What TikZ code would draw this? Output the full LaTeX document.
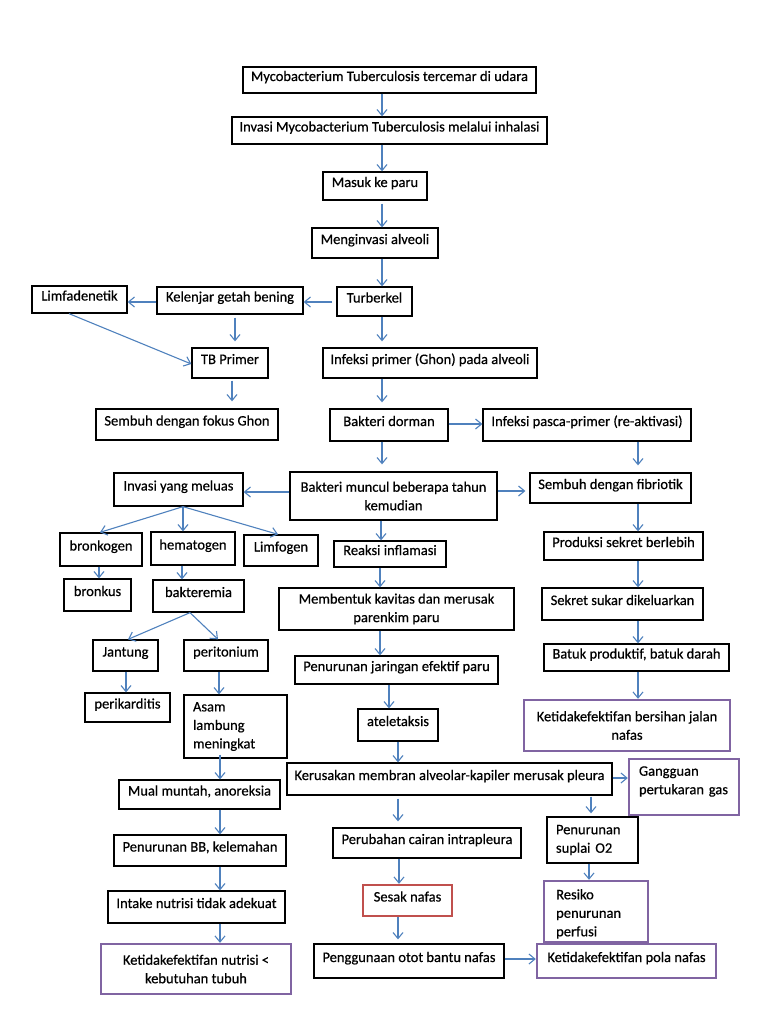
\documentclass[tikz,border=0pt]{standalone}
\usepackage{fontspec}
\setmainfont{Carlito}[FakeBold=0.5]
\usetikzlibrary{arrows.meta}
\definecolor{panah}{HTML}{4F81BD}
\definecolor{ungu}{HTML}{8064A2}
\definecolor{merah}{HTML}{C0504D}
\tikzset{
  kotak/.style 2 args={draw,line width=1.3pt,fill=white,inner sep=2pt,align=center,
    text height=8pt,text depth=6pt,minimum width=#1,minimum height=#2},
  dua/.style={text height=,text depth=},
  kiri/.style={align=left,text width=#1,text height=,text depth=},
}

\begin{document}
\begin{tikzpicture}[x=1pt,y=-1pt,
  font=\fontsize{14.5}{18.5}\selectfont,
  >={Straight Barb[length=6pt,width=10pt]},
  diagnosa/.style={draw=ungu,line width=2.4pt},
  panahbiru/.style={->,draw=panah,line width=1.1pt}]
  \useasboundingbox (0,0) rectangle (768,1024);

  % kolom tengah
  \node[kotak={293}{26}] (myco) at (389.5,80) {Mycobacterium Tuberculosis tercemar di udara};
  \node[kotak={315}{27}] (invasi) at (389.5,130.5) {Invasi Mycobacterium Tuberculosis melalui inhalasi};
  \node[kotak={104}{28}] (masuk) at (375,186) {Masuk ke paru};
  \node[kotak={126}{30}] (alveoli) at (375,243) {Menginvasi alveoli};
  \node[kotak={75}{29}] (tuberkel) at (374.5,301.5) {Turberkel};
  \node[kotak={214}{30}] (ghon) at (430,363) {Infeksi primer (Ghon) pada alveoli};
  \node[kotak={118}{32}] (dorman) at (389,425) {Bakteri dorman};
  \node[kotak={207}{48},dua] (muncul) at (393.5,496) {Bakteri muncul beberapa tahun\\kemudian};
  \node[kotak={112}{26}] (reaksi) at (390,554) {Reaksi inflamasi};
  \node[kotak={235}{42},dua] (kavitas) at (396.5,609) {Membentuk kavitas dan merusak\\parenkim paru};
  \node[kotak={203}{28}] (jaringan) at (396.5,670) {Penurunan jaringan efektif paru};
  \node[kotak={80}{32}] (atelektasis) at (398,725) {ateletaksis};
  \node[kotak={325}{32}] (kerusakan) at (449.5,779) {Kerusakan membran alveolar-kapiler merusak pleura};
  \node[kotak={188}{30}] (cairan) at (427,843) {Perubahan cairan intrapleura};
  \node[kotak={89}{31},draw=merah,line width=2.4pt] (sesak) at (407.5,900.5) {Sesak nafas};
  \node[kotak={190}{34}] (otot) at (409,961) {Penggunaan otot bantu nafas};

  % kelenjar getah bening
  \node[kotak={146}{27}] (kelenjar) at (230,300.5) {Kelenjar getah bening};
  \node[kotak={95}{27}] (limfa) at (79.5,299.5) {Limfadenetik};
  \node[kotak={76}{30}] (tbprimer) at (230,363) {TB Primer};
  \node[kotak={182}{31}] (fokus) at (187,424.5) {Sembuh dengan fokus Ghon};

  % kolom kiri
  \node[kotak={129}{33}] (meluas) at (178.5,489.5) {Invasi yang meluas};
  \node[kotak={82}{33}] (bronkogen) at (101,549.5) {bronkogen};
  \node[kotak={84}{33}] (hematogen) at (193,548.5) {hematogen};
  \node[kotak={74}{31}] (limfogen) at (281,550.5) {Limfogen};
  \node[kotak={67}{32}] (bronkus) at (97.5,595) {bronkus};
  \node[kotak={91}{32}] (bakteremia) at (198.5,596) {bakteremia};
  \node[kotak={65}{31}] (jantung) at (125.5,655.5) {Jantung};
  \node[kotak={84}{31}] (peritonium) at (226,655.5) {peritonium};
  \node[kotak={85}{29}] (perikarditis) at (127.5,707.5) {perikarditis};
  \node[kotak={103}{63},kiri=85] (asam) at (235.5,726.5) {Asam\\lambung\\meningkat};
  \node[kotak={161}{29}] (mual) at (199.5,794.5) {Mual muntah, anoreksia};
  \node[kotak={172}{31}] (bb) at (200,850.5) {Penurunan BB, kelemahan};
  \node[kotak={177}{32}] (intake) at (196.5,907) {Intake nutrisi tidak adekuat};
  \node[kotak={190}{50},diagnosa,dua] (nutrisi) at (196,969) {Ketidakefektifan nutrisi <\\kebutuhan tubuh};

  % kolom kanan
  \node[kotak={208}{32}] (pasca) at (587,425) {Infeksi pasca-primer (re-aktivasi)};
  \node[kotak={161}{30}] (fibriotik) at (610.5,488) {Sembuh dengan fibriotik};
  \node[kotak={159}{28}] (produksi) at (623.5,546) {Produksi sekret berlebih};
  \node[kotak={161}{32}] (sukar) at (622.5,604) {Sekret sukar dikeluarkan};
  \node[kotak={185}{27}] (batuk) at (636.5,657.5) {Batuk produktif, batuk darah};
  \node[kotak={206}{51},diagnosa,dua] (bersihan) at (627,725.5) {Ketidakefektifan bersihan jalan\\nafas};
  \node[kotak={110}{56},diagnosa,kiri=90,text depth=32pt] (gangguan) at (684,787) {Gangguan\\pertukaran gas};
  \node[kotak={91}{46},kiri=73] (suplai) at (592.5,840) {Penurunan\\suplai O2};
  \node[kotak={104}{61},diagnosa,path picture={
    \node[anchor=north west,align=left,inner sep=0pt,minimum width=0pt,minimum height=0pt,
      text height=,text depth=,draw=none,fill=none]
      at ([xshift=11pt,yshift=-7pt]path picture bounding box.north west)
      {Resiko\\penurunan\\perfusi};}] (resiko) at (596,911.5) {};
  \node[kotak={179}{34},diagnosa] (pola) at (626.5,961) {Ketidakefektifan pola nafas};

  % panah kolom tengah
  \draw[panahbiru] (myco.south -| 382,0) -- (invasi.north -| 382,0);
  \draw[panahbiru] (invasi.south -| 382,0) -- (masuk.north -| 382,0);
  \draw[panahbiru,shorten <=3pt] (masuk.south -| 382,0) -- (alveoli.north -| 382,0);
  \draw[panahbiru] (alveoli.south -| 382,0) -- (tuberkel.north -| 382,0);
  \draw[panahbiru,shorten >=6pt] (tuberkel.south -| 382,0) -- (ghon.north -| 382,0);
  \draw[panahbiru,shorten >=6pt] (ghon.south -| 382,0) -- (dorman.north -| 382,0);
  \draw[panahbiru,shorten >=7pt] (dorman.south -| 382,0) -- (muncul.north -| 382,0);
  \draw[panahbiru] (muncul.south -| 381,0) -- (reaksi.north -| 381,0);
  \draw[panahbiru] (reaksi.south -| 380,0) -- (kavitas.north -| 380,0);
  \draw[panahbiru] (kavitas.south -| 380,0) -- (jaringan.north -| 380,0);
  \draw[panahbiru] (jaringan.south -| 389,0) -- (atelektasis.north -| 389,0);
  \draw[panahbiru] (atelektasis.south -| 398,0) -- (kerusakan.north -| 398,0);
  \draw[panahbiru,shorten <=3pt,shorten >=6pt] (kerusakan.south -| 398,0) -- (cairan.north -| 398,0);
  \draw[panahbiru] (cairan.south -| 399,0) -- (sesak.north -| 399,0);
  \draw[panahbiru,shorten >=4pt] (sesak.south -| 398,0) -- (otot.north -| 398,0);
  \draw[panahbiru] (otot.east |- 0,959) -- (pola.west |- 0,959);

  % panah kiri
  \draw[panahbiru,shorten <=4pt] (tuberkel.west |- 0,302) -- (kelenjar.east |- 0,302);
  \draw[panahbiru] (kelenjar.west |- 0,302) -- (limfa.east |- 0,302);
  \draw[panahbiru,shorten <=3pt,shorten >=6pt] (kelenjar.south -| 235,0) -- (tbprimer.north -| 235,0);
  \draw[panahbiru] (limfa.south -| 69,0) -- (tbprimer.west |- 0,364);
  \draw[panahbiru,shorten <=2pt,shorten >=7pt] (tbprimer.south -| 232,0) -- (fokus.north -| 232,0);
  \draw[panahbiru] (muncul.west |- 0,492) -- (meluas.east |- 0,492);
  \draw[panahbiru] (meluas.south -| 183,0) -- (bronkogen.north -| 100,0);
  \draw[panahbiru] (meluas.south -| 183,0) -- (hematogen.north -| 183,0);
  \draw[panahbiru] (meluas.south -| 183,0) -- (limfogen.north -| 278,0);
  \draw[panahbiru] (bronkogen.south -| 99,0) -- (bronkus.north -| 99,0);
  \draw[panahbiru] (hematogen.south -| 182,0) -- (bakteremia.north -| 182,0);
  \draw[panahbiru] (bakteremia.south -| 190,0) -- (jantung.north -| 128,0);
  \draw[panahbiru] (bakteremia.south -| 190,0) -- (peritonium.north -| 218,0);
  \draw[panahbiru] (jantung.south -| 126,0) -- (perikarditis.north -| 126,0);
  \draw[panahbiru] (peritonium.south -| 219,0) -- (asam.north -| 219,0);
  \draw[panahbiru,shorten <=-4pt] (asam.south -| 220,0) -- (mual.north -| 220,0);
  \draw[panahbiru] (mual.south -| 220,0) -- (bb.north -| 220,0);
  \draw[panahbiru] (bb.south -| 220,0) -- (intake.north -| 220,0);
  \draw[panahbiru] (intake.south -| 220,0) -- (nutrisi.north -| 220,0);

  % panah kanan
  \draw[panahbiru] (dorman.east |- 0,424) -- (pasca.west |- 0,424);
  \draw[panahbiru,shorten >=7pt] (pasca.south -| 638,0) -- (fibriotik.north -| 638,0);
  \draw[panahbiru,shorten >=4pt] (muncul.east |- 0,491) -- (fibriotik.west |- 0,491);
  \draw[panahbiru] (fibriotik.south -| 638,0) -- (produksi.north -| 638,0);
  \draw[panahbiru] (produksi.south -| 638,0) -- (sukar.north -| 638,0);
  \draw[panahbiru] (sukar.south -| 638,0) -- (batuk.north -| 638,0);
  \draw[panahbiru] (batuk.south -| 638,0) -- (bersihan.north -| 638,0);
  \draw[panahbiru] (kerusakan.east |- 0,778) -- (gangguan.west |- 0,778);
  \draw[panahbiru,shorten <=1pt,shorten >=3pt] (kerusakan.south -| 591,0) -- (suplai.north -| 591,0);
  \draw[panahbiru] (suplai.south -| 589,0) -- (resiko.north -| 589,0);
\end{tikzpicture}
\end{document}
